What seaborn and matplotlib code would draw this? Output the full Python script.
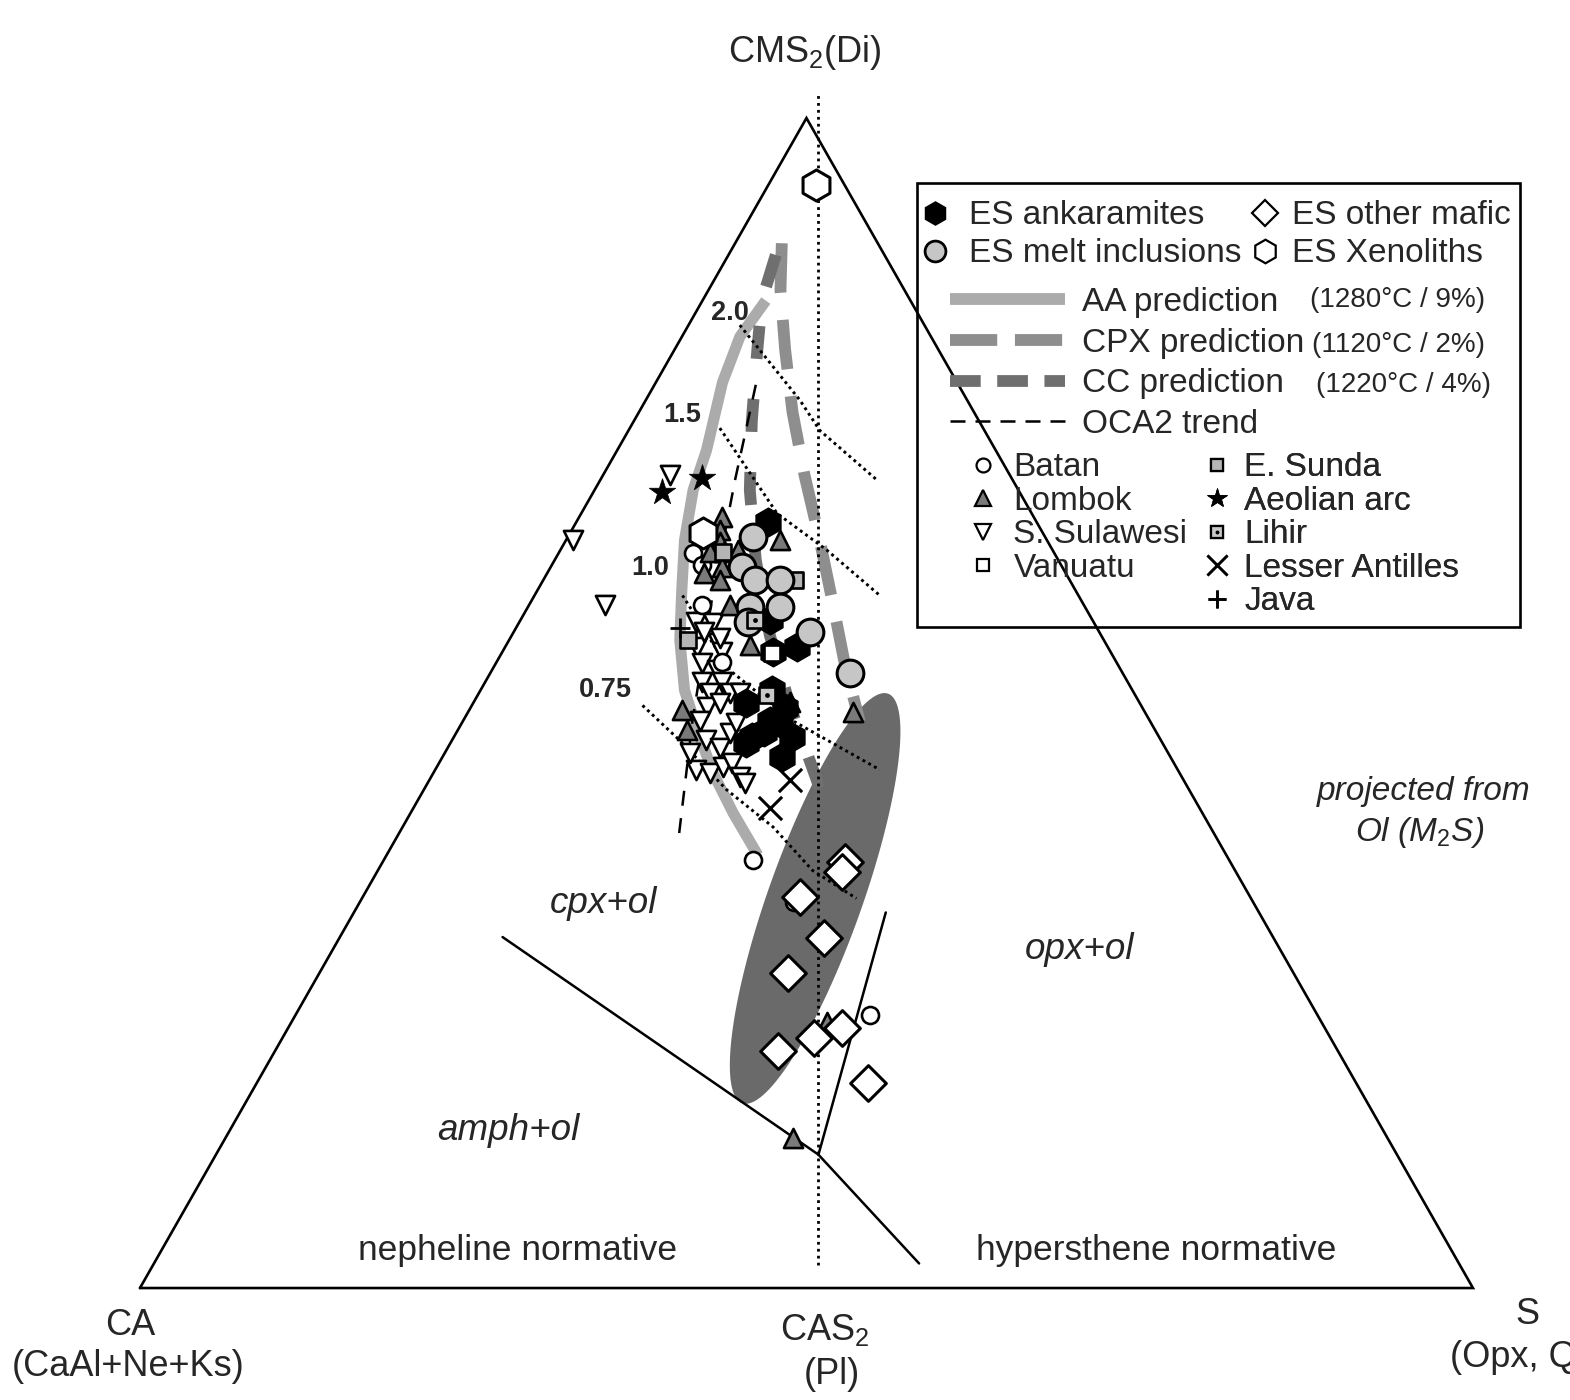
import numpy as np
import pandas as pd
import matplotlib.pyplot as plt
import seaborn as sns
from matplotlib.lines import Line2D
from matplotlib.patches import Polygon, Rectangle
from matplotlib.legend_handler import HandlerTuple

# ternary data in % : di = CMS2 (Di) apex, s = S apex, CA = 100 - di - s
xeno_di = [94.3, 64.5]
xeno_s = [3.6, 10.0]
ank_di = [65.5, 57.1, 54.8, 54.4, 50.0, 51.1, 48.5, 48.3, 47.1, 45.4, 47.1, 46.6, 49.6, 47.5]
ank_s = [14.4, 18.7, 21.9, 20.3, 20.5, 21.9, 23.0, 23.9, 25.4, 25.5, 22.4, 22.2, 23.6, 23.1]
melt_di = [64.2, 61.6, 60.5, 60.5, 58.2, 58.2, 56.9, 56.1, 52.6]
melt_s = [13.9, 14.35, 15.9, 17.75, 16.65, 18.9, 17.15, 22.2, 26.95]
mafic_di = [36.4, 35.6, 33.4, 29.9, 26.9, 22.2, 21.4, 20.3, 17.5]
mafic_s = [34.7, 34.9, 32.8, 36.4, 35.15, 41.6, 39.9, 37.7, 45.85]

batan_di = [62.8, 61.8, 58.4, 53.5, 36.6, 23.3, 33.0]
batan_s = [10.1, 11.3, 12.95, 16.9, 27.7, 43.1, 32.6]
lombok_di = [65.9, 64.8, 63.8, 62.9, 63.1, 62.9, 61.6, 61.1, 60.5, 63.9, 58.4, 55.0,
             49.4, 47.7, 50.1, 49.2, 22.7, 12.8]
lombok_s = [10.7, 11.1, 11.6, 12.4, 13.3, 11.3, 12.9, 11.8, 13.25, 16.05, 15.05, 18.25,
            16.0, 17.2, 23.7, 28.9, 40.2, 42.6]
sula_di = [69.5, 63.9, 58.4, 56.9, 56.8, 54.8, 55.1, 54.4, 53.4, 52.8, 51.8, 51.8, 50.9,
           50.9, 50.9, 49.7, 50.0, 46.8, 46.2, 47.4, 48.3, 44.3, 44.0, 44.5, 44.9, 43.7,
           43.2, 45.7, 48.5, 56.1, 55.6]
sula_s = [5.0, 0.5, 5.7, 13.3, 14.6, 14.4, 15.8, 16.5, 15.5, 16.9, 16.3, 17.8, 17.3,
          18.8, 19.55, 17.7, 18.5, 19.1, 20.4, 20.55, 20.6, 19.6, 20.75, 21.5, 22.0, 23.15,
          23.8, 18.4, 17.75, 14.3, 15.7]
vanuatu_di = [54.3]
vanuatu_s = [20.25]
sunda_di = [62.9, 60.5, 55.4]
sunda_s = [12.3, 18.9, 13.4]
aeolian_di = [68.0, 69.2]
aeolian_s = [5.15, 7.55]
lihir_di = [57.1, 50.7]
lihir_s = [17.6, 21.7]
antilles_di = [41.0, 43.4]
antilles_s = [26.75, 27.05]
java_di = [56.4]
java_s = [12.3]

# model predictions and trends
aa_di = [84.4, 81.3, 77.4, 71.6, 68.2, 63.9, 59.7, 55.4, 51.1, 47.9, 44.0, 40.6, 37.0]
aa_s = [4.75, 4.35, 5.0, 6.7, 7.4, 8.9, 10.8, 12.8, 15.3, 17.8, 21.0, 24.2, 27.85]
cpx_di = [89.3, 85.3, 80.2, 74.9, 69.5, 63.9, 58.4, 53.2, 48.4]
cpx_s = [3.5, 5.4, 8.3, 11.5, 15.1, 19.05, 22.8, 26.3, 29.8]
cc_di = [88.3, 84.4, 80.0, 74.1, 68.2, 62.2, 55.8, 49.8, 42.7]
cc_s = [3.55, 4.45, 6.3, 8.85, 11.65, 15.1, 19.35, 23.85, 29.65]
oca_di = [77.2, 69.1, 58.8, 48.5, 37.9]
oca_s = [7.6, 10.1, 13.5, 17.2, 21.4]

# CaO/Al2O3 isolines
iso_labels = ['2.0', '1.5', '1.0', '0.75']
iso_di = [[82.3, 75.9, 73.3, 69.1],
          [73.5, 66.2, 63.1, 59.2],
          [59.2, 52.8, 48.5, 44.3],
          [49.8, 46.8, 42.6, 39.4, 35.7, 33.3]]
iso_s = [[3.85, 11.55, 14.35, 20.7],
         [6.75, 14.7, 19.95, 25.9],
         [11.1, 17.85, 24.7, 33.35],
         [12.8, 17.1, 22.7, 27.8, 32.6, 37.1]]

# phase boundaries
bnd_a_di = [30.0, 11.4]
bnd_a_s = [12.2, 45.2]
bnd_b_di = [11.4, 2.1]
bnd_b_s = [45.2, 57.4]
bnd_c_di = [11.4, 32.1]
bnd_c_s = [45.2, 39.9]
pl_pos = 50.86  # CAS2 on the base

# ES other mafic field (ellipse): centre and semi-axes
field_di, field_s = 33.3, 34.0
field_major = (5.47, 17.5)
field_minor = (3.32, -1.35)


def tern_xy(di, s):
    di = np.asarray(di, dtype=float)
    s = np.asarray(s, dtype=float)
    return s + di / 2, di


sns.set_style('white')
plt.rcParams['font.family'] = ['Liberation Sans', 'DejaVu Sans']
plt.rcParams['mathtext.fontset'] = 'custom'
plt.rcParams['mathtext.rm'] = 'Liberation Sans'
plt.rcParams['mathtext.it'] = 'Liberation Sans:italic'

fig = plt.figure(figsize=(15.7, 14), dpi=100)
ax = fig.add_axes([0, 0, 1, 1])
ax.set_xlim(-10.5, 107.28)
ax.set_ylim(-9.57, 110.09)
ax.axis('off')

# triangle
tx, ty = tern_xy([0, 0, 100, 0], [0, 100, 0, 0])
ax.plot(tx, ty, color='black', lw=1.9, zorder=3, solid_joinstyle='miter')

# field
t = np.linspace(0, 2 * np.pi, 200)
cx, cy = tern_xy(field_di, field_s)
ex = cx + np.cos(t) * field_major[0] + np.sin(t) * field_minor[0]
ey = cy + np.cos(t) * field_major[1] + np.sin(t) * field_minor[1]
ax.add_patch(Polygon(np.column_stack([ex, ey]), closed=True, fc='#6a6a6a', ec='none', zorder=1))

# boundaries
for bd, bs in [(bnd_a_di, bnd_a_s), (bnd_b_di, bnd_b_s), (bnd_c_di, bnd_c_s)]:
    x, y = tern_xy(bd, bs)
    ax.plot(x, y, color='black', lw=1.8, zorder=3)
ax.plot([pl_pos, pl_pos], [2.0, 102.2], color='black', lw=2.0, ls=(0, (1, 1.5)), zorder=3)

# predictions
x, y = tern_xy(aa_di, aa_s)
ax.plot(x, y, color='#ababab', lw=8, solid_capstyle='butt', zorder=2)
x, y = tern_xy(cpx_di, cpx_s)
ax.plot(x, y, color='#8e8e8e', lw=8.5, dashes=(4.2, 2.3), dash_capstyle='butt', zorder=2)
x, y = tern_xy(cc_di, cc_s)
ax.plot(x, y, color='#6f6f6f', lw=8.5, dashes=(2.8, 3.4), dash_capstyle='butt', zorder=2)
x, y = tern_xy(oca_di, oca_s)
ax.plot(x, y, color='black', lw=1.8, dashes=(6, 5), zorder=3)

for lab, dd, ss in zip(iso_labels, iso_di, iso_s):
    x, y = tern_xy(dd, ss)
    ax.plot(x, y, color='black', lw=2.1, ls=(0, (1, 1.25)), zorder=3)

iso_pos = {'2.0': (44.25, 83.3), '1.5': (40.7, 74.6), '1.0': (38.25, 61.5), '0.75': (34.95, 51.1)}
for lab in iso_labels:
    ax.text(*iso_pos[lab], lab, fontsize=19.5, fontweight='bold', ha='center', va='center', zorder=6)


def plot_group(di, tern_s, **kw):
    x, y = tern_xy(di, tern_s)
    sns.scatterplot(x=x, y=y, ax=ax, legend=False, **kw)


lw_e = 1.9
plot_group(sula_di, sula_s, marker='v', s=190, color='white', edgecolor='black', linewidth=lw_e, zorder=4)
plot_group(batan_di, batan_s, marker='o', s=150, color='white', edgecolor='black', linewidth=lw_e, zorder=4)
plot_group(lombok_di, lombok_s, marker='^', s=190, color='#7a7a7a', edgecolor='black', linewidth=lw_e, zorder=4)
plot_group(sunda_di, sunda_s, marker='s', s=120, color='#b5b5b5', edgecolor='black', linewidth=lw_e, zorder=4)
plot_group(java_di, java_s, marker='+', s=220, color='black', edgecolor='black', linewidth=2, zorder=4)
plot_group(aeolian_di, aeolian_s, marker='*', s=400, color='black', edgecolor='black', linewidth=0.5, zorder=4)
plot_group(antilles_di, antilles_s, marker='x', s=280, color='black', edgecolor='black', linewidth=2.2, zorder=4)
plot_group(xeno_di, xeno_s, marker='h', s=500, color='white', edgecolor='black', linewidth=2.2, zorder=5)
plot_group(ank_di, ank_s, marker='h', s=430, color='black', edgecolor='black', linewidth=1.0, zorder=5)
plot_group(melt_di, melt_s, marker='o', s=370, color='#c6c6c6', edgecolor='black', linewidth=2.2, zorder=5)
plot_group(lihir_di, lihir_s, marker='s', s=120, color='#c8c8c8', edgecolor='black', linewidth=lw_e, zorder=6)
plot_group(lihir_di, lihir_s, marker='o', s=12, color='black', edgecolor='black', linewidth=0, zorder=6)
plot_group(vanuatu_di, vanuatu_s, marker='s', s=140, color='white', edgecolor='black', linewidth=lw_e, zorder=6)
plot_group(mafic_di, mafic_s, marker='D', s=330, color='white', edgecolor='black', linewidth=2.2, zorder=6)

# labels
ax.text(49.9, 105.6, 'CMS$_2$(Di)', fontsize=26, ha='center', va='center')
ax.text(-0.7, -3.2, 'CA', fontsize=26, ha='center', va='center')
ax.text(-0.9, -6.7, '(CaAl+Ne+Ks)', fontsize=26, ha='center', va='center')
ax.text(51.4, -3.6, 'CAS$_2$', fontsize=26, ha='center', va='center')
ax.text(51.9, -7.35, '(Pl)', fontsize=26, ha='center', va='center')
ax.text(104.1, -2.3, 'S', fontsize=26, ha='center', va='center')
ax.text(98.25, -5.9, '(Opx, Qz)', fontsize=26, ha='left', va='center')
ax.text(28.35, 3.25, 'nepheline normative', fontsize=25.5, ha='center', va='center')
ax.text(76.2, 3.25, 'hypersthene normative', fontsize=25.5, ha='center', va='center')
ax.text(34.8, 32.9, 'cpx+ol', fontsize=26.5, style='italic', ha='center', va='center')
ax.text(70.5, 28.9, 'opx+ol', fontsize=26.5, style='italic', ha='center', va='center')
ax.text(27.6, 13.5, 'amph+ol', fontsize=26.5, style='italic', ha='center', va='center')
ax.text(96.3, 42.4, 'projected from', fontsize=24, style='italic', ha='center', va='center')
ax.text(96.0, 38.9, 'Ol (M$_2$S)', fontsize=24, style='italic', ha='center', va='center')

# legend
ax.add_patch(Rectangle((0.584, 0.552), 0.384, 0.317, transform=ax.transAxes,
                       fill=False, ec='black', lw=1.9, zorder=7))
leg_font = {'family': 'Liberation Sans', 'size': 24}
common = dict(frameon=False, borderpad=0, borderaxespad=0, prop=leg_font, loc='upper left')


def mk(marker, fc, ms, mew=1.6, ec='black'):
    return Line2D([], [], ls='none', marker=marker, mfc=fc, mec=ec, ms=ms, mew=mew)


l1a = ax.legend([mk('h', 'black', 16), mk('o', '#c6c6c6', 15, 2.0)],
                ['ES ankaramites', 'ES melt inclusions'],
                bbox_to_anchor=(0.5862, 0.857), handlelength=0.9, handletextpad=0.55,
                labelspacing=0.21, **common)
ax.add_artist(l1a)
l1b = ax.legend([mk('D', 'white', 13), mk('h', 'white', 17)],
                ['ES other mafic', 'ES Xenoliths'],
                bbox_to_anchor=(0.7964, 0.857), handlelength=0.85, handletextpad=0.4,
                labelspacing=0.21, **common)
ax.add_artist(l1b)
line_h = [Line2D([], [], color='#ababab', lw=8.5, solid_capstyle='butt'),
          Line2D([], [], color='#8e8e8e', lw=8.5, dashes=(4.0, 1.5), dash_capstyle='butt'),
          Line2D([], [], color='#6f6f6f', lw=8.5, dashes=(2.6, 1.4), dash_capstyle='butt'),
          Line2D([], [], color='black', lw=1.8, dashes=(6, 4))]
l2 = ax.legend(line_h, ['AA prediction', 'CPX prediction', 'CC prediction', 'OCA2 trend'],
               bbox_to_anchor=(0.6051, 0.795), handlelength=3.45, handletextpad=0.5,
               labelspacing=0.29, **common)
ax.add_artist(l2)
l3a = ax.legend([mk('o', 'white', 10), mk('^', '#7a7a7a', 11), mk('v', 'white', 11),
                 mk('s', 'white', 9)],
                ['Batan', 'Lombok', 'S. Sulawesi', 'Vanuatu'],
                bbox_to_anchor=(0.6168, 0.677), handlelength=0.85, handletextpad=0.5,
                labelspacing=0.075, **common)
ax.add_artist(l3a)
lihir_h = (mk('s', '#c8c8c8', 9), mk('o', 'black', 2.8, 0))
l3b = ax.legend([mk('s', '#b5b5b5', 9), mk('*', 'black', 15, 0.5), lihir_h,
                 mk('x', 'black', 15, 1.9), mk('+', 'black', 13, 1.9)],
                ['E. Sunda', 'Aeolian arc', 'Lihir', 'Lesser Antilles', 'Java'],
                bbox_to_anchor=(0.7659, 0.677), handlelength=0.85, handletextpad=0.4,
                labelspacing=0.075, handler_map={tuple: HandlerTuple(ndivide=1)}, **common)
ax.add_artist(l3b)

small = 20
ax.text(0.8344, 0.7857, '(1280°C / 9%)', fontsize=small, transform=ax.transAxes, va='center')
ax.text(0.8357, 0.7536, '(1120°C / 2%)', fontsize=small, transform=ax.transAxes, va='center')
ax.text(0.8382, 0.7250, '(1220°C / 4%)', fontsize=small, transform=ax.transAxes, va='center')

fig.savefig('out.png', dpi=100, facecolor='white')
